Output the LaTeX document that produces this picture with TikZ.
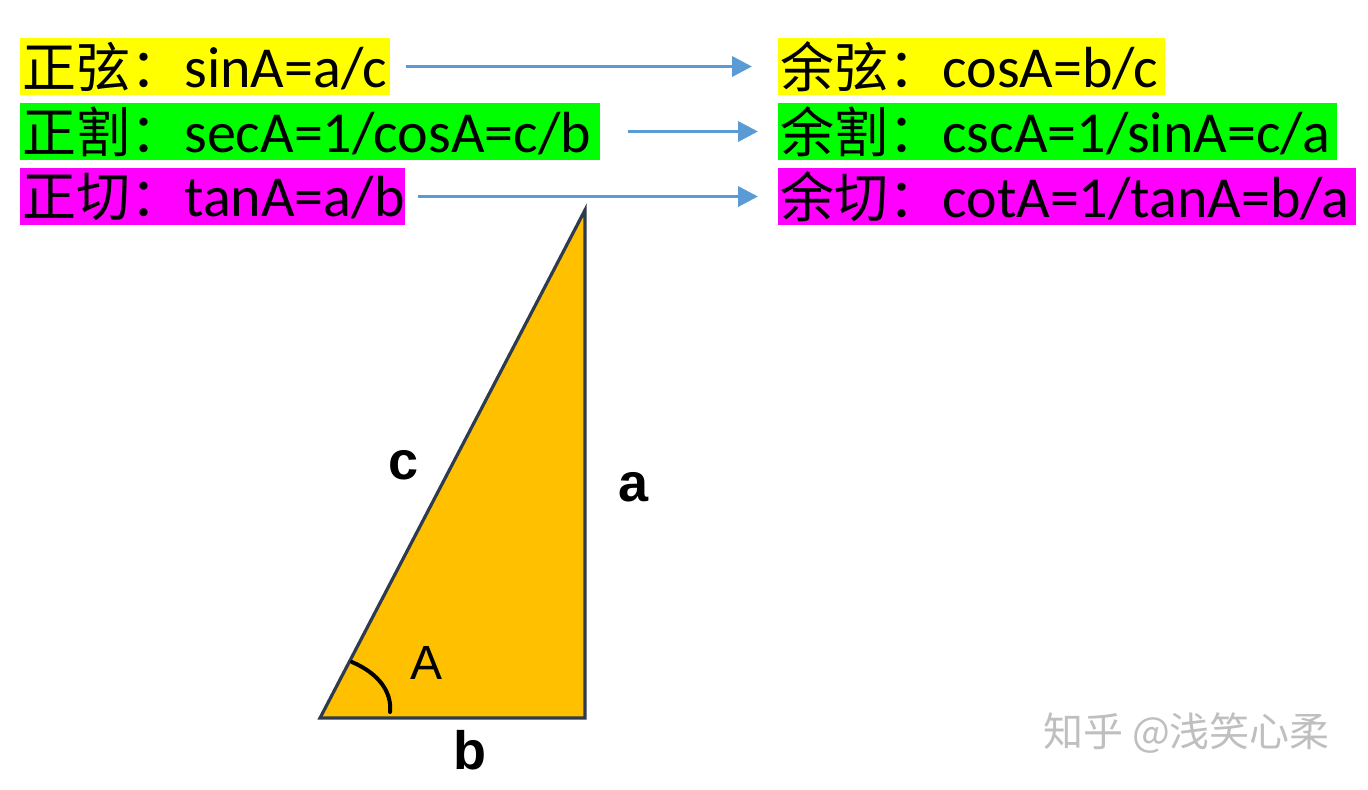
\documentclass[tikz,border=0pt]{standalone}
\usepackage{fontspec}
\setmainfont{Carlito}
\newfontfamily\cjk{Noto Sans CJK SC}
\newfontfamily\lbl{Liberation Sans}
\usetikzlibrary{arrows.meta}
\definecolor{arrowblue}{HTML}{5B9BD5}
\definecolor{triorange}{HTML}{FFC000}
\definecolor{triedge}{HTML}{2E3B4E}
\definecolor{sinyellow}{HTML}{FFFF00}
\definecolor{secgreen}{HTML}{00FF00}
\definecolor{tanmagenta}{HTML}{FF00FF}
\newcommand{\ratio}[2]{\mbox{{\cjk\fontsize{27}{29}\selectfont #1}#2}}

\begin{document}
\begin{tikzpicture}[x=0.5pt,y=-0.5pt,
	ratiobox/.style={anchor=west,inner xsep=1pt,inner ysep=0pt,minimum height=28.5pt,align=left,font=\fontsize{29}{29}\selectfont},
	link/.style={-{Triangle[length=10pt,width=10pt]},arrowblue,line width=1.8pt},
	side/.style={font=\lbl\bfseries\fontsize{27}{27}\selectfont}]
	\useasboundingbox (0,0) rectangle (1368,789);
	\node[ratiobox,fill=sinyellow,text width=183pt] (sinbox) at (20,66.5) {\ratio{正弦：}{sinA=a/c}};
	\node[ratiobox,fill=secgreen,text width=288pt] (secbox) at (20,131.5) {\ratio{正割：}{secA=1/cosA=c/b}};
	\node[ratiobox,fill=tanmagenta,text width=190.5pt] (tanbox) at (20,196.5) {\ratio{正切：}{tanA=a/b}};
	\node[ratiobox,fill=sinyellow,text width=191.5pt] (cosbox) at (778,66.5) {\ratio{余弦：}{cosA=b/c}};
	\node[ratiobox,fill=secgreen,text width=277.5pt] (cscbox) at (778,131.5) {\ratio{余割：}{cscA=1/sinA=c/a}};
	\node[ratiobox,fill=tanmagenta,text width=287pt] (cotbox) at (778,196.5) {\ratio{余切：}{cotA=1/tanA=b/a}};
	\path[link]
	(sinbox) edge[shorten <=7.5pt,shorten >=13pt] (cosbox)
	(secbox) edge[shorten <=13.5pt,shorten >=10pt] (cscbox)
	(tanbox) edge[shorten <=6pt,shorten >=10pt] (cotbox);
	\coordinate (B) at (320,718);
	\coordinate (C) at (585,718);
	\coordinate (T) at (585,210);
	\draw[fill=triorange,draw=triedge,line width=1.6pt,line join=miter] (B) -- (C) -- (T) -- cycle;
	\draw[line width=2pt,line cap=round] (352,662) .. controls (380,674) and (392,693) .. (390,712);
	\node[font=\lbl\fontsize{24}{24}\selectfont] (anglename) at (426,663) {A};
	\node[side] (hyp) at (404,465) {c};
	\node[side] (opp) at (634,487) {a};
	\node[side] (adj) at (470,750) {b};
	\node[font=\cjk\fontsize{20}{20}\selectfont,text=black!25,anchor=west] (mark) at (1036,733) {知乎 @浅笑心柔};
\end{tikzpicture}
\end{document}
